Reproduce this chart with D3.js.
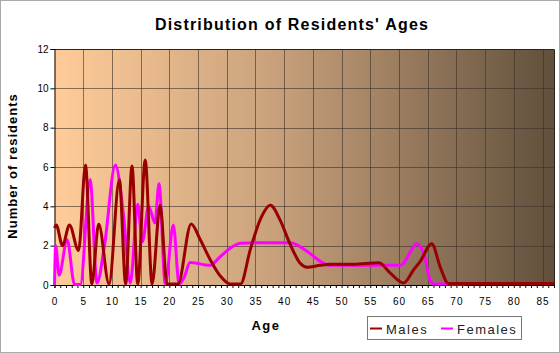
<!DOCTYPE html>
<html>
<head>
<meta charset="utf-8">
<script src="https://cdn.jsdelivr.net/npm/d3@7"></script>
<style>
  body { margin: 0; background: #fff; }
  svg { display: block; font-family: "Liberation Sans", Arial, sans-serif; }
</style>
</head>
<body>
<div class="chart"></div>
<script>
// ages / counts (points of the smoothed curves)
const maleAges   = [0, 0.3, 1.4, 2.6, 4.2, 5.4, 6.5, 7.7, 9.5, 11.3, 12.4, 13.5, 14.5, 15.8, 17, 18.4, 19.6, 21.5, 23.8, 25.4, 27.1, 28.9, 30.6, 32.4, 34.1, 35.8, 37.6, 39.3, 41, 42.8, 44, 46.3, 48, 52, 56.5, 58.5, 60.8, 62.5, 63.7, 65.7, 67.2, 68.6, 75, 87];
const maleCounts = [2.9, 3.05, 2.0, 3.05, 1.75, 6.1, 0.05, 3.1, 0.05, 5.35, 0.05, 6.05, 0.05, 6.35, 0.05, 4.05, 0.05, 0.05, 3.1, 2.3, 1.3, 0.45, 0.05, 0.05, 1.8, 3.3, 4.05, 3.3, 2.1, 1.1, 0.9, 1.0, 1.05, 1.05, 1.13, 0.6, 0.1, 0.75, 1.2, 2.1, 0.9, 0.08, 0.08, 0.08];

const femaleAges   = [0, 0.2, 0.8, 2.2, 3.5, 4.5, 6.2, 7.4, 8.7, 10.6, 12, 13.2, 14.5, 15.3, 16.4, 17.5, 18.2, 19.3, 20.7, 21.7, 22.6, 23.6, 27.1, 28.9, 30.6, 32.4, 35, 41, 44.5, 46.3, 48, 55, 60.2, 60.8, 62, 63.1, 64.6, 65.4, 66.2, 71.6];
const femaleCounts = [0, 2.0, 0.5, 2.3, 0.02, 0.02, 5.35, 0.1, 2.0, 6.1, 3.6, 0.1, 4.1, 2.2, 4.0, 3.15, 5.15, 0.05, 3.05, 0.05, 0.4, 1.15, 1.0, 1.45, 1.87, 2.12, 2.15, 2.15, 1.6, 1.2, 1.0, 1.0, 1.0, 1.1, 1.7, 2.1, 1.3, 0.25, 0.05, 0.05];

const yTicks = [0, 2, 4, 6, 8, 10, 12];
const xLabelTicks = [0, 5, 10, 15, 20, 25, 30, 35, 40, 45, 50, 55, 60, 65, 70, 75, 80, 85];

const width = 560, height = 353;
const plot = {left: 54.5, right: 554, top: 49, bottom: 285};

const svg = d3.select(".chart").append("svg")
    .attr("width", width)
    .attr("height", height);

// outer frame
svg.append("rect")
    .attr("x", 0.5).attr("y", 0.5)
    .attr("width", width - 1).attr("height", height - 1)
    .attr("fill", "#fff").attr("stroke", "#aaa");

const x = d3.scaleLinear().domain([0, 87]).range([plot.left, plot.right]);
const y = d3.scaleLinear().domain([0, 12]).range([plot.bottom, plot.top]);

// background gradient
const grad = svg.append("defs").append("linearGradient")
    .attr("id", "bg").attr("x1", "0%").attr("x2", "100%");
grad.append("stop").attr("offset", "0%").attr("stop-color", "#ffcc99");
grad.append("stop").attr("offset", "45%").attr("stop-color", "#c7a07b");
grad.append("stop").attr("offset", "100%").attr("stop-color", "#61503c");

svg.append("rect")
    .attr("x", plot.left).attr("y", plot.top)
    .attr("width", plot.right - plot.left)
    .attr("height", plot.bottom - plot.top)
    .attr("fill", "url(#bg)");

// grid
const grid = svg.append("g").attr("stroke", "#3a3128").attr("stroke-opacity", 0.6);
grid.selectAll("line.v")
    .data(xLabelTicks.filter(d => d > 0))
    .join("line")
    .attr("class", "v")
    .attr("x1", d => Math.round(x(d)) + 0.5).attr("x2", d => Math.round(x(d)) + 0.5)
    .attr("y1", plot.top).attr("y2", plot.bottom);
grid.selectAll("line.h")
    .data(yTicks.filter(d => d > 0))
    .join("line")
    .attr("class", "h")
    .attr("x1", plot.left).attr("x2", plot.right)
    .attr("y1", d => Math.round(y(d)) + 0.5).attr("y2", d => Math.round(y(d)) + 0.5);

// frame top/right
svg.append("path")
    .attr("d", `M${plot.left},${plot.top + 0.5}H${plot.right + 0.5}V${plot.bottom}`)
    .attr("fill", "none").attr("stroke", "#2b241c");

// axes
const xAxis = svg.append("g")
    .attr("transform", `translate(0,${plot.bottom})`)
    .call(d3.axisBottom(x)
        .tickValues(d3.range(0, 88))
        .tickSize(3)
        .tickPadding(10)
        .tickFormat(d => d % 5 === 0 ? d : ""));
xAxis.selectAll("text").attr("font-size", 10).attr("fill", "#000").style("letter-spacing", "1px");
xAxis.select(".domain").attr("stroke", "#000");

const yAxis = svg.append("g")
    .attr("transform", `translate(${plot.left},0)`)
    .call(d3.axisLeft(y).tickValues(yTicks).tickSize(4).tickPadding(2));
yAxis.selectAll("text").attr("font-size", 10).attr("fill", "#000");
yAxis.select(".domain").attr("stroke", "#000");

// lines
const line = d3.line().x(d => x(d[0])).y(d => y(d[1])).curve(d3.curveMonotoneX);
const females = femaleAges.map((a, i) => [a, femaleCounts[i]]);
const males = maleAges.map((a, i) => [a, maleCounts[i]]);

svg.append("path")
    .attr("d", line(females))
    .attr("fill", "none").attr("stroke", "#ff00ff").attr("stroke-width", 3)
    .attr("stroke-linejoin", "round");
svg.append("path")
    .attr("d", line(males))
    .attr("fill", "none").attr("stroke", "#990000").attr("stroke-width", 3)
    .attr("stroke-linejoin", "round");

// texts
svg.append("text")
    .attr("x", 292).attr("y", 30)
    .attr("text-anchor", "middle")
    .attr("font-size", 16).attr("font-weight", "bold")
    .style("letter-spacing", "1.2px")
    .text("Distribution of Residents' Ages");

svg.append("text")
    .attr("transform", "translate(17,166) rotate(-90)")
    .attr("text-anchor", "middle")
    .attr("font-size", 13).attr("font-weight", "bold")
    .style("letter-spacing", "1px")
    .text("Number of residents");

svg.append("text")
    .attr("x", 266).attr("y", 330)
    .attr("text-anchor", "middle")
    .attr("font-size", 13).attr("font-weight", "bold")
    .style("letter-spacing", "1.5px")
    .text("Age");

// legend
const legend = svg.append("g");
legend.append("rect")
    .attr("x", 367.5).attr("y", 316.5)
    .attr("width", 154).attr("height", 23)
    .attr("fill", "none").attr("stroke", "#777");
const items = [
  {name: "Males", color: "#990000", x: 370},
  {name: "Females", color: "#ff00ff", x: 441}
];
items.forEach(it => {
  legend.append("line")
      .attr("x1", it.x).attr("x2", it.x + 12)
      .attr("y1", 328.5).attr("y2", 328.5)
      .attr("stroke", it.color).attr("stroke-width", 2);
  legend.append("text")
      .attr("x", it.x + 16).attr("y", 334)
      .attr("font-size", 13).attr("fill", "#222")
      .style("letter-spacing", "1.5px")
      .text(it.name);
});
</script>
</body>
</html>
